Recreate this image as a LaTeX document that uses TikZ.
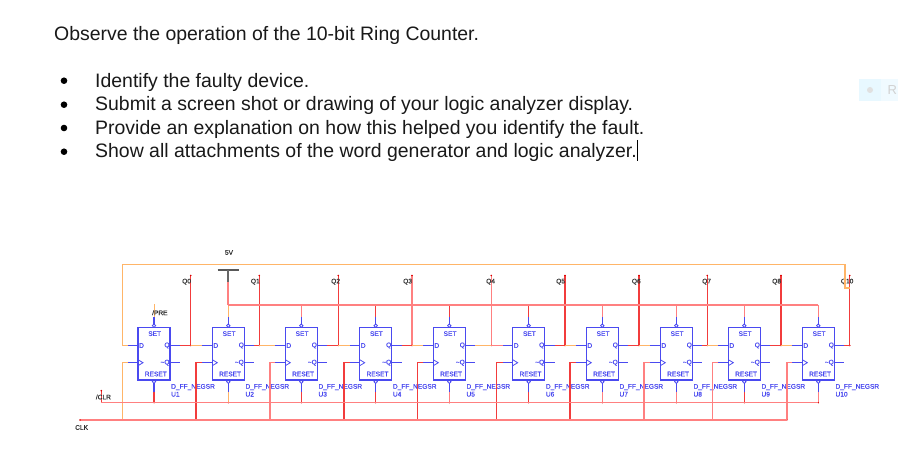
\documentclass[tikz,border=0pt]{standalone}
\usepackage{fontspec}
\setmainfont{Liberation Sans}
\newfontface\labelface{Liberation Sans}[FakeBold=0.6]
\definecolor{wsalmon}{HTML}{FF8080}
\definecolor{wred}{HTML}{F23C3C}
\definecolor{worange}{HTML}{FFB568}
\definecolor{pinblue}{HTML}{4A4AF0}
\tikzset{
  wr/.style={wsalmon,line width=1.6pt},
  wt/.style={wred,line width=1.2pt},
  wo/.style={worange,line width=1.6pt},
  pin/.style={pinblue,line width=1.1pt},
  ffbox/.style={draw=pinblue,line width=1.2pt,minimum width=32pt,minimum height=52.5pt,inner sep=0pt},
  small/.style={font=\labelface\fontsize{6.6}{7}\selectfont,inner sep=0pt,text=#1},
  small/.default={pinblue},
  doc/.style={font=\fontsize{19.45}{23}\selectfont,inner sep=0pt,anchor=base west,text=black!90},
  dotb/.style={circle,fill=black,inner sep=0pt,minimum size=6.6pt},
}
\begin{document}
\begin{tikzpicture}[x=1pt,y=-1pt,line join=miter]
\useasboundingbox (0,0) rectangle (898,465);
\fill[white] (0,0) rectangle (898,465);
% side panel
\fill[blue!30!cyan!9] (859,79) rectangle (881,100.7);
\fill[blue!30!cyan!6] (881,79) rectangle (898,100.7);
\fill[black!12] (870,90) circle[radius=3pt];
\node[font=\fontsize{13}{15}\selectfont,inner sep=0pt,anchor=base west,text=black!18] (sideR) at (887.5,95) {R};
% document text
\node[doc] (title) at (54,40.8) {Observe the operation of the 10-bit Ring Counter.};
\node[doc] (l1) at (95,87.5) {Identify the faulty device.};
\node[doc] (l2) at (95,110.8) {Submit a screen shot or drawing of your logic analyzer display.};
\node[doc] (l3) at (95,134.6) {Provide an explanation on how this helped you identify the fault.};
\node[doc] (l4) at (95,157.8) {Show all attachments of the word generator and logic analyzer.};
\node[dotb] (b1) at (64,80.7) {};
\node[dotb] (b2) at (64,104.7) {};
\node[dotb] (b3) at (64,128) {};
\node[dotb] (b4) at (64,151.7) {};
\draw[black,line width=1pt] (637.3,140) -- (637.3,160.7);
% flip-flops and their local wires
\foreach \n/\L/\C/\W/\QL/\Qt/\sc/\rc/\cc/\qc in {
 1/138/122.3/190.7/182/Q0/wo/wt/wo/wt,
 2/212.3/196/259.3/250.7/Q1/wo/wo/wt/wt,
 3/285.3/270/338.3/331/Q2/wr/wt/wr/wt,
 4/359.7/344/412/403/Q3/wt/wt/wt/wr,
 5/433.3/417.3/491.3/486/Q4/wt/wr/wt/wr,
 6/512.7/496.3/565/556/Q5/wt/wt/wt/wt,
 7/586.3/570/639/631.7/Q6/wr/wr/wt/wt,
 8/660.3/644/707.3/702/Q7/wr/wr/wr/wt,
 9/728.3/712.3/781/772/Q8/wr/wt/wr/wt,
 10/802.3/786.7/849.7/840.7/Q10/wr/wr/wr/wt}{
  \node[ffbox] (u\n) at (\L+16,353.75) {};
  \coordinate (de\n) at (\L-10,345.5);
  \coordinate (di\n) at (\L,345.5);
  \coordinate (ce\n) at (\L-10,362.7);
  \coordinate (ci\n) at (\L,362.7);
  \coordinate (qo\n) at (\L+32,345.5);
  \coordinate (qe\n) at (\L+42,345.5);
  \coordinate (qj\n) at (\W,345.5);
  \coordinate (qt\n) at (\W,275.5);
  \coordinate (nqo\n) at (\L+32,362.7);
  \coordinate (nqe\n) at (\L+42,362.7);
  \coordinate (cc\n) at (\C,362.7);
  \coordinate (cb\n) at (\C,420);
  \coordinate (st\n) at (\L+16,305);
  \coordinate (sp\n) at (\L+16,317);
  \coordinate (sb\n) at (\L+16,324);
  \coordinate (rb\n) at (\L+16,383.5);
  \coordinate (rp\n) at (\L+16,392);
  \coordinate (rt\n) at (\L+16,402.7);
  % pins
  \draw[pin] (de\n) -- (di\n);
  \draw[pin] (ce\n) -- (ci\n);
  \draw[pin] (qo\n) -- (qe\n);
  \draw[pin] (nqo\n) -- (nqe\n);
  \draw[pin] (sp\n) -- (sb\n);
  \draw[pin] (rb\n) -- (rp\n);
  \draw[pin,line width=0.8pt] (\L+16,325.7) circle[radius=1.7pt];
  \draw[pin,line width=0.8pt] (\L+16,381.7) circle[radius=1.7pt];
  \draw[pin,line width=0.8pt] (\L,359.7) -- (\L+5,362.7) -- (\L,365.7);
  % wires
  \draw[\rc] (rp\n) -- (rt\n);
  \draw[\cc] (ce\n) -- (cc\n) -- (cb\n);
  \draw[\qc] (qj\n) -- (qt\n);
  \fill[red!85!black] (qt\n) circle[radius=0.9pt];
  \fill[red!85!black] (qj\n) circle[radius=0.8pt];
  \fill[red!85!black] (cb\n) circle[radius=0.8pt];
  \fill[red!85!black] (rt\n) circle[radius=0.8pt];
  \ifnum\n>1 \draw[\sc] (st\n) -- (sp\n); \fi
  % labels
  \node[small] (set\n) at (\L+16.7,333.7) {SET};
  \node[small] (rst\n) at (\L+17.8,374) {RESET};
  \node[small] (dl\n) at (\L+3.5,345.5) {D};
  \node[small] (ql\n) at (\L+29,345.5) {Q};
  \node[small] (nql\n) at (\L+27,362.7) {\char"007EQ};
  \node[small,anchor=base west] (ty\n) at (\L+33,388.7) {D\_FF\_NEGSR};
  \node[small,anchor=base west] (nm\n) at (\L+33,396.5) {U\n};
  \node[small=black!80,anchor=west] (qn\n) at (\QL,281.7) {\Qt};
}
% Q to D chain
\foreach \a/\b/\ca/\cb in {1/2/wt/wo,2/3/wt/wo,3/4/wt/wo,4/5/wt/wo,5/6/wo/wr,6/7/wt/wo,7/8/wt/wo,8/9/wt/wo,9/10/wt/wo}{
  \draw[\ca] (qe\a) -- (qj\a);
  \draw[\cb] (qj\a) -- (de\b);
}
\draw[wt] (qe10) -- (qj10);
% feedback loop from Q10 to D of U1
\coordinate (lp1) at (849.7,288.3);
\coordinate (lp2) at (844.7,288.3);
\coordinate (lp3) at (844.7,264.7);
\coordinate (lp4) at (122.3,264.7);
\coordinate (lp5) at (122.3,345.5);
\draw[wo] (lp1) -- (lp2) -- (lp3) -- (lp4) -- (lp5) -- (de1);
% power
\coordinate (vbarL) at (217.7,270);
\coordinate (vbarR) at (238.7,270);
\coordinate (vtop) at (228,270);
\coordinate (vmid) at (228,282);
\draw[black!65,line width=1.1pt] (vbarL) -- (vbarR);
\draw[black!60,line width=1.1pt] (vtop) -- (vmid);
\draw[wr] (vmid) -- (228,305);
\node[small=black!80] (vlabel) at (229,252.5) {5V};
\draw[wr] (228,305) -- (st10);
% preset
\coordinate (pretop) at (154,304.5);
\draw[worange,line width=1pt] (pretop) -- (sp1);
\node[small=black!80,anchor=west] (prelabel) at (152,312.7) {/PRE};
% clear bus
\coordinate (clrtop) at (101.3,390.7);
\coordinate (clrbus) at (101.3,402.7);
\draw[wt] (clrtop) -- (clrbus);
\fill[red!85!black] (clrtop) circle[radius=0.9pt];
\draw[wr] (clrbus) -- (rt10);
\node[small=black!80,anchor=west] (clrlabel) at (95.7,397) {/CLR};
% clock bus
\coordinate (clkstart) at (80,420);
\draw[wr] (clkstart) -- (cb10);
\fill[red!85!black] (clkstart) circle[radius=0.9pt];
\node[small=black!80,anchor=west] (clklabel) at (75,427.5) {CLK};
\end{tikzpicture}
\end{document}
